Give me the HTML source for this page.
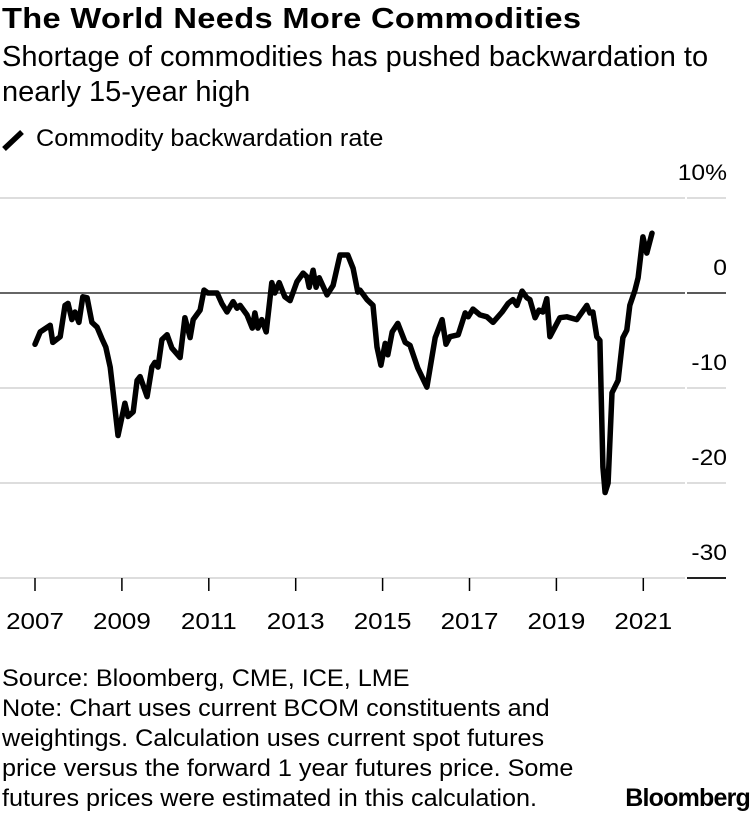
<!DOCTYPE html>
<html><head><meta charset="utf-8"><style>
body{margin:0;background:#fff;width:750px;height:814px;overflow:hidden;font-family:"Liberation Sans",sans-serif;color:#000}
.t{position:absolute;left:2px;white-space:nowrap}
</style></head><body>
<div class="t" style="top:3px;font-size:29px;font-weight:bold;letter-spacing:0.3px;transform:scaleX(1.125);transform-origin:0 0">The World Needs More Commodities</div>
<div class="t" style="top:40px;font-size:29px;line-height:35px">Shortage of commodities has pushed backwardation to<br>nearly 15-year high</div>
<div style="position:absolute;left:0;top:124px;height:30px">
<svg width="30" height="30" style="position:absolute;left:0;top:0"><line x1="4" y1="25" x2="22" y2="8" stroke="#000" stroke-width="5.5"/></svg>
<span style="position:absolute;left:36px;top:0;font-size:24px;line-height:30px;white-space:nowrap;transform:scaleX(1.05);transform-origin:0 0">Commodity backwardation rate</span></div>
<svg id="chart" width="750" height="814" style="position:absolute;left:0;top:0"></svg>
<div class="t" style="top:664px;font-size:24px;line-height:30px;transform:scaleX(1.05);transform-origin:0 0">Source: Bloomberg, CME, ICE, LME<br>Note: Chart uses current BCOM constituents and<br>weightings. Calculation uses current spot futures<br>price versus the forward 1 year futures price. Some<br>futures prices were estimated in this calculation.</div>
<div style="position:absolute;right:0;top:784px;font-size:25px;font-weight:bold;letter-spacing:-0.8px">Bloomberg</div>
<script>
const yTicks=[10,0,-10,-20,-30];
const yTickLabels=["10%","0","-10","-20","-30"];
const xTicks=[2007,2009,2011,2013,2015,2017,2019,2021];
const dates=[2007.00,2007.12,2007.35,2007.41,2007.58,2007.69,2007.76,2007.85,2007.92,2008.01,2008.10,2008.20,2008.31,2008.43,2008.54,2008.63,2008.73,2008.80,2008.91,2009.07,2009.14,2009.26,2009.35,2009.42,2009.58,2009.69,2009.76,2009.83,2009.92,2010.04,2010.15,2010.34,2010.45,2010.57,2010.64,2010.80,2010.89,2010.98,2011.19,2011.30,2011.42,2011.56,2011.65,2011.72,2011.88,2012.00,2012.06,2012.13,2012.22,2012.32,2012.45,2012.52,2012.62,2012.75,2012.87,2013.03,2013.17,2013.26,2013.31,2013.40,2013.47,2013.54,2013.72,2013.86,2014.02,2014.20,2014.32,2014.43,2014.48,2014.64,2014.78,2014.87,2014.96,2015.06,2015.12,2015.22,2015.35,2015.52,2015.63,2015.81,2016.02,2016.21,2016.37,2016.46,2016.55,2016.74,2016.90,2016.97,2017.08,2017.24,2017.40,2017.54,2017.75,2017.89,2018.00,2018.09,2018.21,2018.32,2018.39,2018.51,2018.60,2018.69,2018.78,2018.85,2019.08,2019.24,2019.47,2019.70,2019.77,2019.84,2019.93,2020.00,2020.07,2020.12,2020.19,2020.28,2020.42,2020.53,2020.62,2020.69,2020.81,2020.88,2020.99,2021.08,2021.20];
const values=[-5.4,-4.1,-3.4,-5.2,-4.6,-1.3,-1.1,-2.8,-2.0,-3.1,-0.4,-0.5,-3.1,-3.6,-4.8,-5.7,-7.8,-10.5,-15.0,-11.6,-13.0,-12.5,-9.2,-8.8,-10.9,-7.8,-7.3,-7.8,-4.9,-4.4,-5.8,-6.8,-2.6,-4.7,-2.8,-1.8,0.3,0.0,0.0,-1.1,-2.0,-0.9,-1.6,-1.3,-2.3,-3.7,-2.1,-3.7,-2.8,-4.1,1.1,0.0,1.1,-0.4,-0.8,1.2,2.1,1.7,0.6,2.4,0.6,1.6,-0.2,0.8,4.0,4.0,2.6,0.1,0.3,-0.7,-1.3,-5.7,-7.6,-5.3,-6.5,-4.1,-3.2,-5.2,-5.5,-7.9,-9.9,-4.7,-2.8,-5.4,-4.6,-4.4,-2.1,-2.5,-1.7,-2.3,-2.5,-3.1,-2.0,-1.1,-0.7,-1.3,0.2,-0.5,-0.7,-2.6,-1.8,-2.0,-0.6,-4.6,-2.6,-2.5,-2.8,-1.3,-2.1,-2.0,-4.6,-5.0,-18.3,-21.0,-20.0,-10.5,-9.2,-4.7,-3.9,-1.3,0.3,1.6,5.9,4.2,6.3];
const NS="http://www.w3.org/2000/svg";
const svg=document.getElementById('chart');
function xs(d){return 35+(d-2007)*43.45;}
function ys(v){return 293-v*9.5;}
function mk(tag,attrs){const e=document.createElementNS(NS,tag);for(const k in attrs)e.setAttribute(k,attrs[k]);svg.appendChild(e);return e;}
yTicks.forEach((v,i)=>{
  const y=ys(v);
  const col=v===0?'#333':'#ddd';
  const g1=mk('line',{x1:0,x2:685,y1:y,y2:y,stroke:col,'stroke-width':v===0?1.5:2});
  
  
  const g2=mk('line',{x1:687,x2:726,y1:y,y2:y,stroke:(v===0||v===-30)?'#222':'#ddd','stroke-width':v===0?1.5:2});
  
  
  const t=mk('text',{x:0,y:0,'text-anchor':'end','font-size':22,'font-family':'Liberation Sans, sans-serif',transform:'translate(727,'+(y-18)+') scale(1.12,1)'});
  t.textContent=v===10?'10':yTickLabels[i];
  if(v===10){const s=document.createElementNS(NS,'tspan');s.setAttribute('text-anchor','start');s.textContent='%';t.appendChild(s);}
  
  
});
xTicks.forEach(yr=>{
  const x=xs(yr);
  const l=mk('line',{x1:x,x2:x,y1:578,y2:591,stroke:'#000','stroke-width':1.5});
  
  
  const t=mk('text',{x:0,y:0,'text-anchor':'middle','font-size':23,'font-family':'Liberation Sans, sans-serif',transform:'translate('+x+',629) scale(1.13,1)'});
  t.textContent=String(yr);
  
  
});
const pts=dates.map((d,i)=>xs(d).toFixed(1)+','+ys(values[i]).toFixed(1)).join(' ');
const line=mk('polyline',{points:pts,fill:'none',stroke:'#000','stroke-width':5.5,'stroke-linejoin':'round','stroke-linecap':'round'});


</script>
</body></html>
